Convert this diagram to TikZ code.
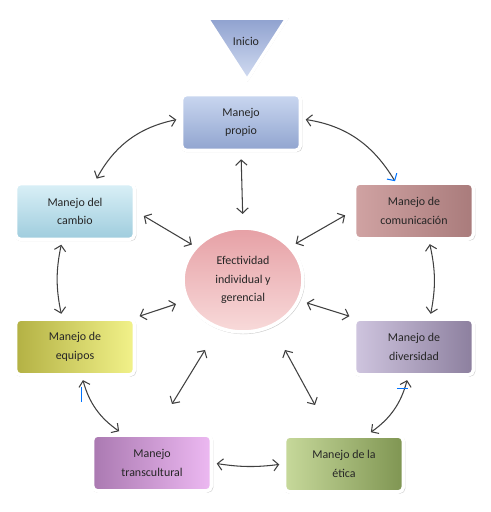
\documentclass[tikz,border=0pt]{standalone}
\usepackage{fontspec}
\setmainfont{Carlito}
\usetikzlibrary{arrows.meta,shadows,shapes.geometric}
\definecolor{inicioA}{HTML}{8FA1CF}
\definecolor{inicioB}{HTML}{D3DDF2}
\definecolor{propioA}{HTML}{CAD7F0}
\definecolor{propioB}{HTML}{90A4CF}
\definecolor{cambioA}{HTML}{DAF0F7}
\definecolor{cambioB}{HTML}{9ECCDD}
\definecolor{comunA}{HTML}{D0A3A3}
\definecolor{comunB}{HTML}{A97B7B}
\definecolor{centroA}{HTML}{E6A0A5}
\definecolor{centroB}{HTML}{F8DADA}
\definecolor{equiposA}{HTML}{B3B144}
\definecolor{equiposB}{HTML}{F2F28A}
\definecolor{diversA}{HTML}{CFC5DF}
\definecolor{diversB}{HTML}{8C7F9E}
\definecolor{transcA}{HTML}{AA79B1}
\definecolor{transcB}{HTML}{EDB9F2}
\definecolor{eticaA}{HTML}{C7D99B}
\definecolor{eticaB}{HTML}{7F9552}
\tikzset{
  sombra/.style={drop shadow={shadow xshift=0.4pt, shadow yshift=-0.6pt, shadow scale=1.02, opacity=0.35, fill=black!60}},
  caja/.style={rectangle, rounded corners=3pt, draw=white, line width=2pt,
    minimum width=2.38cm, minimum height=1.12cm, align=center,
    font=\fontsize{6.8}{10.5}\selectfont, text=black!85, sombra},
  flecha/.style={{Straight Barb[length=3pt,width=6.5pt]}-{Straight Barb[length=3pt,width=6.5pt]},
    draw=black!75, line width=0.6pt, shorten <=2pt, shorten >=2pt},
  marca/.style={draw=blue!55!cyan, line width=0.6pt}
}
\begin{document}
\begin{tikzpicture}
\useasboundingbox (0,0) rectangle (9.8,10.24);
% inicio
\path[draw=white, line width=2pt, line join=round, top color=inicioA, bottom color=inicioB, sombra]
  (4.14,9.88) -- (5.74,9.88) -- (4.94,8.64) -- cycle;
\node[font=\fontsize{6.8}{10.5}\selectfont, text=black!85] (inicio) at (4.92,9.42) {Inicio};
% cajas
\node[caja, top color=propioA, bottom color=propioB] (propio) at (4.82,7.79) {Manejo\\propio};
\node[caja, top color=cambioA, bottom color=cambioB] (cambio) at (1.5,6.01) {Manejo del\\cambio};
\node[caja, left color=comunA, right color=comunB] (comun) at (8.28,6.02) {Manejo de\\comunicación};
\node[ellipse, draw=white, line width=2pt, minimum width=2.4cm, minimum height=2.08cm, align=center,
  font=\fontsize{6.8}{10.5}\selectfont, text=black!85, top color=centroA, bottom color=centroB, sombra]
  (centro) at (4.86,4.64) {Efectividad\\individual y\\gerencial};
\node[caja, left color=equiposA, right color=equiposB] (equipos) at (1.5,3.30) {Manejo de\\equipos};
\node[caja, left color=diversA, right color=diversB] (divers) at (8.28,3.30) {Manejo de\\diversidad};
\node[caja, left color=transcA, right color=transcB] (transc) at (3.04,0.98) {Manejo\\transcultural};
\node[caja, left color=eticaA, right color=eticaB] (etica) at (6.88,0.96) {Manejo de la\\ética};
% puntos libres
\coordinate (a1) at (4.10,3.24);
\coordinate (a2) at (3.44,2.16);
\coordinate (b1) at (5.70,3.24);
\coordinate (b2) at (6.30,2.14);
% flechas
\draw[{Straight Barb[length=3pt,width=6.5pt]}-{Straight Barb[length=3pt,width=6.5pt,color=blue!55!cyan]},
  draw=black!75, line width=0.6pt, shorten <=2pt]
  ([yshift=2pt]propio.east) to[bend left=25] ([xshift=-0.38cm]comun.north);
\draw[flecha] ([yshift=2pt]propio.west) to[bend right=25] ([xshift=0.4cm]cambio.north);
\draw[flecha, shorten <=4pt, shorten >=7pt] (propio.south) -- (centro.north);
\draw[flecha, shorten <=5pt] (cambio.east) -- (centro.145);
\draw[flecha, shorten <=5pt, shorten >=3pt] (comun.west) -- (centro.35);
\draw[flecha] ([xshift=-0.26cm]cambio.south) to[bend right=12] ([xshift=-0.26cm]equipos.north);
\draw[flecha] ([xshift=0.3cm]comun.south) to[bend left=12] ([xshift=0.32cm]divers.north);
\draw[flecha, shorten >=6pt] (equipos.north east) -- (centro.200);
\draw[flecha, shorten >=4pt] (divers.north west) -- (centro.-20);
\draw[flecha, shorten <=0pt, shorten >=0pt] (a1) -- (a2);
\draw[flecha, shorten <=0pt, shorten >=0pt] (b1) -- (b2);
\draw[flecha] ([xshift=0.14cm]equipos.south) to[bend right=20] ([xshift=-0.6cm]transc.north);
\draw[flecha] ([xshift=-0.12cm]divers.south) to[bend left=20] ([xshift=0.48cm]etica.north);
\draw[flecha] (transc.east) to[bend right=8] (etica.west);
% marcas azules
\draw[marca] ([xshift=0.13cm,yshift=-0.2cm]equipos.south) -- ++(0,-0.3);
\draw[marca] ([xshift=-0.34cm,yshift=-0.24cm]divers.south) -- ++(0.22,0);
\end{tikzpicture}
\end{document}
